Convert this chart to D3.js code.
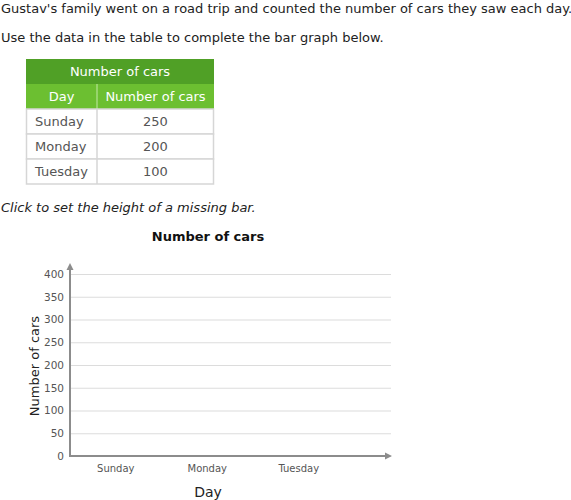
<!DOCTYPE html>
<html>
<head>
<meta charset="utf-8">
<script src="https://cdn.jsdelivr.net/npm/d3@7"></script>
<style>
  body { margin: 0; background: #fff; }
  svg { display: block; font-family: Verdana, "DejaVu Sans", sans-serif; }
</style>
</head>
<body>
<svg id="page"></svg>
<script>
const width = 571;
const height = 500;

// table data
const days = ["Sunday", "Monday", "Tuesday"];
const cars = [250, 200, 100];
// bars already drawn on the graph (all missing)
const barValues = [null, null, null];
const yTicks = [0, 50, 100, 150, 200, 250, 300, 350, 400];

const svg = d3.select("#page").attr("width", width).attr("height", height);

// prompt text
svg.append("text")
  .attr("x", 1).attr("y", 13)
  .attr("font-size", 13).attr("fill", "#222")
  .text("Gustav's family went on a road trip and counted the number of cars they saw each day.");

svg.append("text")
  .attr("x", 1).attr("y", 42)
  .attr("font-size", 13).attr("fill", "#222")
  .text("Use the data in the table to complete the bar graph below.");

// table
const tableX = 26, tableY = 59, rowH = 25;
const colX = d3.scaleOrdinal().domain(["day", "cars"]).range([26, 97]);
const colW = { day: 71, cars: 117 };
const tableW = colW.day + colW.cars;

const table = svg.append("g");

table.append("rect")
  .attr("x", tableX).attr("y", tableY)
  .attr("width", tableW).attr("height", rowH)
  .attr("fill", "#50a026");
table.append("text")
  .attr("x", tableX + tableW / 2).attr("y", tableY + 17)
  .attr("text-anchor", "middle").attr("font-size", 13).attr("fill", "#fff")
  .text("Number of cars");

table.append("rect")
  .attr("x", tableX).attr("y", tableY + rowH)
  .attr("width", tableW).attr("height", rowH)
  .attr("fill", "#6cbf31");
table.append("line")
  .attr("x1", colX("cars")).attr("x2", colX("cars"))
  .attr("y1", tableY + rowH).attr("y2", tableY + 2 * rowH)
  .attr("stroke", "#a6db80").attr("stroke-width", 1.5);
table.append("text")
  .attr("x", colX("day") + colW.day / 2).attr("y", tableY + rowH + 17)
  .attr("text-anchor", "middle").attr("font-size", 13).attr("fill", "#fff")
  .text("Day");
table.append("text")
  .attr("x", colX("cars") + colW.cars / 2).attr("y", tableY + rowH + 17)
  .attr("text-anchor", "middle").attr("font-size", 13).attr("fill", "#fff")
  .text("Number of cars");

const rows = table.selectAll(".row")
  .data(days.map((d, i) => ({ day: d, cars: cars[i] })))
  .enter().append("g")
  .attr("class", "row")
  .attr("transform", (d, i) => `translate(0, ${tableY + (i + 2) * rowH})`);

rows.append("rect")
  .attr("x", tableX + 0.5).attr("y", 0)
  .attr("width", tableW - 1).attr("height", rowH)
  .attr("fill", "#fff").attr("stroke", "#d6d6d6").attr("stroke-width", 1.5);
rows.append("line")
  .attr("x1", colX("cars")).attr("x2", colX("cars"))
  .attr("y1", 0).attr("y2", rowH)
  .attr("stroke", "#d6d6d6").attr("stroke-width", 1.5);
rows.append("text")
  .attr("x", colX("day") + 9).attr("y", 17)
  .attr("font-size", 13).attr("fill", "#555")
  .text(d => d.day);
rows.append("text")
  .attr("x", colX("cars") + colW.cars / 2).attr("y", 17)
  .attr("text-anchor", "middle").attr("font-size", 13).attr("fill", "#555")
  .text(d => d.cars);

svg.append("text")
  .attr("x", 1).attr("y", 212)
  .attr("font-size", 13).attr("font-style", "italic").attr("fill", "#222")
  .text("Click to set the height of a missing bar.");

// bar graph
const plotLeft = 70, plotBottom = 456, plotTop = 274, gridRight = 391;

const x = d3.scaleBand().domain(days).range([plotLeft, plotLeft + 91.5 * days.length]);
const y = d3.scaleLinear().domain([0, 400]).range([plotBottom, plotTop]);

svg.append("text")
  .attr("x", 208).attr("y", 241)
  .attr("text-anchor", "middle").attr("font-size", 13)
  .attr("font-weight", "bold").attr("fill", "#111")
  .text("Number of cars");

const grid = svg.append("g")
  .attr("transform", `translate(${plotLeft}, 0)`)
  .call(d3.axisLeft(y).tickValues(yTicks).tickSize(-(gridRight - plotLeft)).tickFormat(""));
grid.select(".domain").remove();
grid.selectAll(".tick line").attr("stroke", "#dcdcdc").attr("stroke-width", 1.2);

const yAxis = svg.append("g")
  .attr("transform", `translate(${plotLeft - 6}, 0)`)
  .call(d3.axisLeft(y).tickValues(yTicks).tickSize(0).tickPadding(0));
yAxis.select(".domain").remove();
yAxis.selectAll("text")
  .attr("font-family", "Verdana, 'DejaVu Sans', sans-serif")
  .attr("font-size", 10.5).attr("fill", "#555");

const xAxis = svg.append("g")
  .attr("transform", `translate(0, ${plotBottom})`)
  .call(d3.axisBottom(x).tickSize(0).tickPadding(9));
xAxis.select(".domain").remove();
xAxis.selectAll("text")
  .attr("font-family", "Verdana, 'DejaVu Sans', sans-serif")
  .attr("font-size", 10).attr("fill", "#555");

// bars (none set yet)
svg.selectAll(".bar")
  .data(days.map((d, i) => ({ day: d, v: barValues[i] })).filter(d => d.v != null))
  .enter().append("rect")
  .attr("class", "bar")
  .attr("x", d => x(d.day) + x.bandwidth() * 0.2)
  .attr("width", x.bandwidth() * 0.6)
  .attr("y", d => y(d.v))
  .attr("height", d => plotBottom - y(d.v))
  .attr("fill", "#6cbf31");

// axes with arrows
const axisColor = "#8c8c8c";
svg.append("line")
  .attr("x1", plotLeft).attr("x2", plotLeft)
  .attr("y1", plotBottom + 1).attr("y2", plotTop - 5)
  .attr("stroke", axisColor).attr("stroke-width", 2);
svg.append("path")
  .attr("d", `M${plotLeft - 3.5},${plotTop - 4} L${plotLeft},${plotTop - 11} L${plotLeft + 3.5},${plotTop - 4} Z`)
  .attr("fill", axisColor);
svg.append("line")
  .attr("x1", plotLeft - 1).attr("x2", gridRight - 4)
  .attr("y1", plotBottom).attr("y2", plotBottom)
  .attr("stroke", axisColor).attr("stroke-width", 2);
svg.append("path")
  .attr("d", `M${gridRight - 6},${plotBottom - 3.5} L${gridRight + 1},${plotBottom} L${gridRight - 6},${plotBottom + 3.5} Z`)
  .attr("fill", axisColor);

svg.append("text")
  .attr("x", 208).attr("y", 497)
  .attr("text-anchor", "middle").attr("font-size", 14).attr("fill", "#222")
  .text("Day");

svg.append("text")
  .attr("transform", `translate(39, 366) rotate(-90)`)
  .attr("text-anchor", "middle").attr("font-size", 13).attr("fill", "#222")
  .text("Number of cars");
</script>
</body>
</html>
